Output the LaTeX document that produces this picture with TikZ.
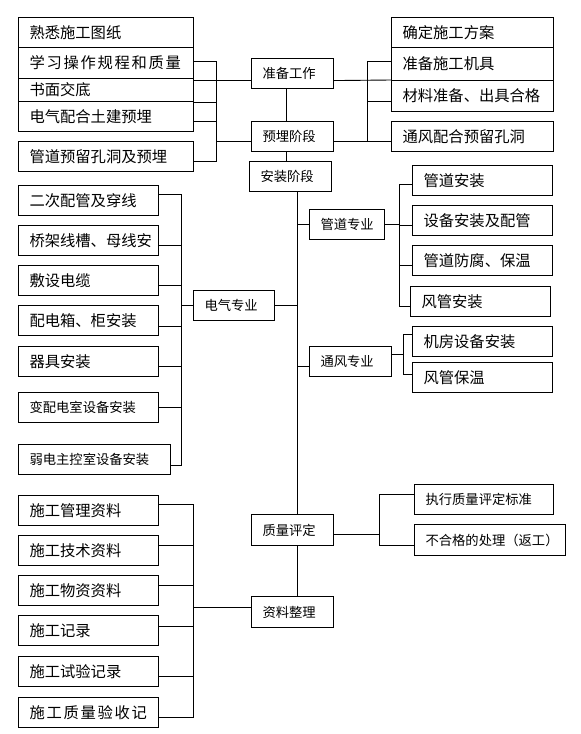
\documentclass[tikz,border=0pt]{standalone}
\usepackage{fontspec}
\newfontfamily\cjk{Noto Sans CJK SC}
\makeatletter
\def\wide#1{\def\wide@sep{}\@tfor\wide@ch:=#1\do{\wide@sep\wide@ch\def\wide@sep{\kern1.7pt}}}
\makeatother

\begin{document}
\begin{tikzpicture}[x=1pt, y=-1pt,
		box/.style={draw, line width=1.1pt, anchor=north west, minimum height=30pt, inner xsep=11pt, inner ysep=0pt, align=left, font=\cjk\fontsize{15.3}{16}\selectfont},
		small/.style={font=\cjk\fontsize{13.3}{14}\selectfont},
		link/.style={line width=0.9pt}]
		%%%%% START %%%%%
		\useasboundingbox (0,0) rectangle (581,734);
		
		\node[box, text width=153pt] (f1) at (18,17) {熟悉施工图纸};
		\node[box, text width=153pt, minimum height=31pt] (f2) at (18,47) {\wide{学习操作规程和质量}};
		\node[box, text width=153pt, minimum height=23pt] (f3) at (18,78) {书面交底};
		\node[box, text width=153pt] (f4) at (18,101) {电气配合土建预埋};
		\node[box, text width=153pt] (f5) at (18,141) {管道预留孔洞及预埋};
		
		\node[box, small, text width=60pt] (prep) at (251,58) {准备工作};
		\node[box, small, text width=60pt] (embed) at (251,121) {预埋阶段};
		\node[box, small, text width=60pt] (inst) at (249,161) {安装阶段};
		
		\node[box, text width=140pt] (r1) at (391,17) {确定施工方案};
		\node[box, text width=140pt, minimum height=33pt] (r2) at (391,47) {准备施工机具};
		\node[box, text width=140pt, minimum height=31pt] (r3) at (391,80) {材料准备、出具合格};
		\node[box, text width=140pt] (r4) at (391,121) {通风配合预留孔洞};
		
		\node[box, text width=118pt] (e1) at (18,185) {二次配管及穿线};
		\node[box, text width=118pt] (e2) at (18,225) {桥架线槽、母线安};
		\node[box, text width=118pt] (e3) at (18,265) {敷设电缆};
		\node[box, text width=118pt] (e4) at (18,305) {配电箱、柜安装};
		\node[box, text width=118pt] (e5) at (18,346) {器具安装};
		\node[box, small, text width=118pt] (e6) at (18,392) {变配电室设备安装};
		\node[box, small, text width=130pt] (e7) at (18,444) {弱电主控室设备安装};
		\node[box, small, text width=59pt] (elec) at (193,290) {电气专业};
		
		\node[box, small, text width=53pt] (pipe) at (309,209) {管道专业};
		\node[box, text width=118pt] (p1) at (412,165) {管道安装};
		\node[box, text width=118pt] (p2) at (412,205) {设备安装及配管};
		\node[box, text width=118pt] (p3) at (412,245) {管道防腐、保温};
		\node[box, text width=118pt] (p4) at (410,286) {风管安装};
		
		\node[box, small, text width=60pt] (vent) at (309,346) {通风专业};
		\node[box, text width=118pt] (v1) at (412,326) {机房设备安装};
		\node[box, text width=118pt] (v2) at (412,362) {风管保温};
		
		\node[box, small, text width=60pt, minimum height=31pt] (qual) at (251,514) {质量评定};
		\node[box, small, text width=117pt] (q1) at (414,484) {执行质量评定标准};
		\node[box, small, text width=129pt, minimum height=31pt] (q2) at (414,524) {不合格的处理（返工）};
		\node[box, small, text width=60pt, minimum height=31pt] (docs) at (251,596) {资料整理};
		
		\node[box, text width=118pt] (d1) at (18,495) {施工管理资料};
		\node[box, text width=118pt] (d2) at (18,535) {施工技术资料};
		\node[box, text width=118pt] (d3) at (18,575) {施工物资资料};
		\node[box, text width=118pt] (d4) at (18,615) {施工记录};
		\node[box, text width=118pt] (d5) at (18,656) {施工试验记录};
		\node[box, text width=118pt] (d6) at (18,697) {\wide{施工质量验收记}};
		
		% bus tops
		\coordinate (busL) at (216,61);
		\coordinate (busR) at (367,141);
		\coordinate (busE) at (181,194);
		\coordinate (busP) at (399,184);
		\coordinate (busV) at (403,334);
		\coordinate (busQ) at (379,494);
		\coordinate (busD) at (193,504);
		\coordinate (prepIn) at ([yshift=-7pt]prep.west);
		\coordinate (embedIn) at ([yshift=-5pt]embed.west);
		\coordinate (stem) at ([xshift=-6pt]prep.south);
		\coordinate (trunk) at ([xshift=7pt]inst.south);
		\coordinate (ventIn) at ([yshift=-5pt]vent.west);
		\coordinate (ventOut) at ([yshift=7pt]vent.east);
		\coordinate (qualOut) at ([yshift=-4.5pt]qual.east);
		\coordinate (docsIn) at ([yshift=4.5pt]docs.west);
		
		\foreach \a/\dy in {f2.east/1.5, f3.south east/0, f4.east/-5, f5.east/-5}
			\draw[link] ([yshift=\dy pt]\a) -| (busL);
		\draw[link] (embedIn) -| (busL);
		\draw[link] (prepIn -| f2.east) -- (prepIn);
		\draw[link] (prep.east |- prepIn) -- (r3.north west);
		\foreach \n/\dy in {r2/2.5, r3/-5.5}
			\draw[link] ([yshift=\dy pt]\n.west) -| (busR);
		\draw[link] (embed.east |- embedIn) -- (embedIn -| r4.west);
		\draw[link] (stem) -- (stem |- embed.north);
		\draw[link] (stem |- embed.south) -- (stem |- inst.north);
		
		\draw[link] (trunk) -- (trunk |- qual.north);
		\draw[link] (trunk |- qual.south) -- (trunk |- docs.north);
		\draw[link] (trunk |- pipe.west) -- (pipe.west);
		\draw[link] (trunk |- ventIn) -- (ventIn);
		\draw[link] (elec.east) -- (elec.east -| trunk);
		
		\foreach \n/\dy in {e1/6, e2/-5, e3/-5, e4/-5.5, e5/-5, e6/0, e7/-6}
			\draw[link] ([yshift=\dy pt]\n.east) -| (busE);
		\draw[link] (elec.west) -| (busE);
		
		\foreach \n/\dy in {p1/-4, p2/-5, p3/-5, p4/-5}
			\draw[link] ([yshift=\dy pt]\n.west) -| (busP);
		\draw[link] (pipe.east) -| (busP);
		
		\foreach \n/\dy in {v1/7, v2/3}
			\draw[link] ([yshift=\dy pt]\n.west) -| (busV);
		\draw[link] (ventOut) -| (busV);
		
		\foreach \n/\dy in {q1/5, q2/-5.5}
			\draw[link] ([yshift=\dy pt]\n.west) -| (busQ);
		\draw[link] (qualOut) -| (busQ);
		
		\foreach \n/\dy in {d1/6, d2/5, d3/5.5, d4/4.5, d5/-5, d6/-5}
			\draw[link] ([yshift=\dy pt]\n.east) -| (busD);
		\draw[link] (docsIn) -| (busD);
		%%%%% END %%%%%
	\end{tikzpicture}
\end{document}
